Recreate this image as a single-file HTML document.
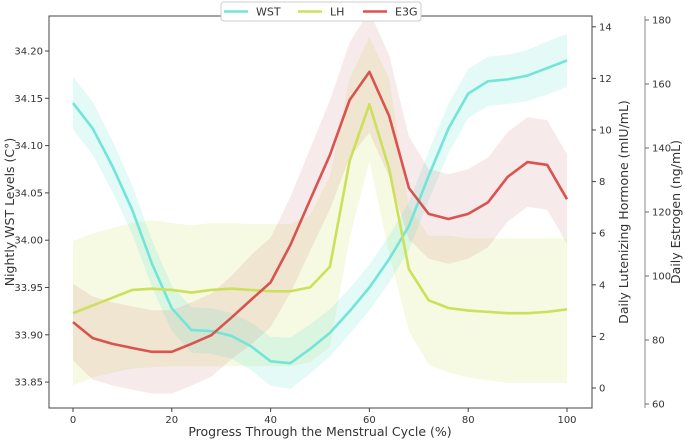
<!DOCTYPE html>
<html><head><meta charset="utf-8"><style>
body{margin:0;background:#fff;font-family:"Liberation Sans","DejaVu Sans",sans-serif}
svg text{font-family:"DejaVu Sans","Liberation Sans",sans-serif;fill:#333}
</style></head><body>
<svg id="c" width="685" height="440"></svg>
<script>
const xs=[0,4,8,12,16,20,24,28,32,36,40,44,48,52,56,60,64,68,72,76,80,84,88,92,96,100];
const wst=[34.145,34.118,34.078,34.032,33.975,33.928,33.905,33.904,33.899,33.888,33.872,33.870,33.885,33.902,33.925,33.950,33.980,34.015,34.068,34.118,34.155,34.168,34.170,34.174,34.182,34.190];
const wstErr=[0.028,0.028,0.027,0.026,0.025,0.024,0.024,0.024,0.024,0.025,0.026,0.027,0.026,0.025,0.024,0.024,0.025,0.025,0.026,0.026,0.026,0.026,0.026,0.027,0.028,0.028];
const lh=[2.9,3.2,3.5,3.8,3.85,3.8,3.7,3.8,3.85,3.8,3.75,3.75,3.9,4.7,8.8,11.0,8.5,4.6,3.4,3.1,3.0,2.95,2.9,2.9,2.95,3.05];
const lhLow=[0.1,0.4,0.6,0.75,0.8,0.85,0.85,0.85,0.85,0.85,0.85,0.85,1.0,1.6,5.8,8.8,5.2,2.2,0.9,0.6,0.4,0.3,0.2,0.2,0.2,0.2];
const lhHigh=[5.7,6.0,6.2,6.4,6.5,6.4,6.3,6.4,6.4,6.35,6.35,6.35,6.7,8.2,12.0,13.6,12.0,7.0,5.9,5.9,5.8,5.8,5.8,5.8,5.8,5.8];
const e3g=[85.6,80.6,78.8,77.5,76.3,76.3,78.8,81.5,86.9,92.5,98,109.7,123.8,137.8,155,163.8,150,127.5,119.4,117.8,119.4,123,131,135.6,134.7,124];
const e3gErr=[12,13,13,13,13,13,13,13,13,14,14,15,16,17,18,19,19,16,14,14,14,14,14,14,14,14];
const xTicks=[0,20,40,60,80,100];
const wTicks=[33.85,33.90,33.95,34.00,34.05,34.10,34.15,34.20];
const lTicks=[0,2,4,6,8,10,12,14];
const eTicks=[60,80,100,120,140,160,180];

const L=49,R=592,T=16,B=408;
const X=v=>73+v*4.94;
const YW=v=>51+(34.20-v)/0.05*47.3;
const YL=v=>388-v*25.8;
const YE=v=>404-(v-60)*3.2;
const NS="http://www.w3.org/2000/svg";
const svg=document.getElementById('c');
function el(t,a,txt){const e=document.createElementNS(NS,t);for(const k in a)e.setAttribute(k,a[k]);if(txt!==undefined)e.textContent=txt;svg.appendChild(e);return e;}
function band(lo,hi,fy,col,op,name){
 let d='M'+xs.map((x,i)=>X(x)+','+fy(hi[i])).join('L');
 for(let i=xs.length-1;i>=0;i--)d+='L'+X(xs[i])+','+fy(lo[i]);
 const p=el('path',{d:d+'Z',fill:col,'fill-opacity':op,stroke:'none'});
 
 
}
function line(vals,fy,col,name){
 const p=el('path',{d:'M'+xs.map((x,i)=>X(x)+','+fy(vals[i])).join('L'),fill:'none',stroke:col,'stroke-width':2.6,'stroke-linejoin':'round'});
 
 
}
const CW='#72e5d8',CL='#cce05a',CE='#d9534f';
band(lhLow,lhHigh,YL,CL,0.17,'lh-band');
band(wst.map((v,i)=>v-wstErr[i]),wst.map((v,i)=>v+wstErr[i]),YW,CW,0.2,'wst-band');
band(e3g.map((v,i)=>v-e3gErr[i]),e3g.map((v,i)=>v+e3gErr[i]),YE,'#c0605a',0.13,'e3g-band');
line(wst,YW,CW,'wst-line');
line(lh,YL,CL,'lh-line');
line(e3g,YE,CE,'e3g-line');
el('rect',{x:L,y:T,width:R-L,height:B-T,fill:'none',stroke:'#444','stroke-width':1});
el('line',{x1:645,y1:16,x2:645,y2:408,stroke:'#888','stroke-width':1});
xTicks.forEach(v=>{el('line',{x1:X(v),y1:B,x2:X(v),y2:B+4,stroke:'#444'});const t=el('text',{x:X(v),y:B+15,'font-size':10,'text-anchor':'middle'},v);});
wTicks.forEach(v=>{el('line',{x1:L-4,y1:YW(v),x2:L,y2:YW(v),stroke:'#444'});const t=el('text',{x:L-6,y:YW(v)+3.5,'font-size':10,'text-anchor':'end'},v.toFixed(2));});
lTicks.forEach(v=>{el('line',{x1:R,y1:YL(v),x2:R+4,y2:YL(v),stroke:'#444'});const t=el('text',{x:R+7,y:YL(v)+3.5,'font-size':10},v);});
eTicks.forEach(v=>{el('line',{x1:645,y1:YE(v),x2:649,y2:YE(v),stroke:'#666'});const t=el('text',{x:652,y:YE(v)+3.5,'font-size':10},v);});
let t=el('text',{x:320,y:436,'font-size':12.5,'text-anchor':'middle'},'Progress Through the Menstrual Cycle (%)');
t=el('text',{x:0,y:0,'font-size':12.5,'text-anchor':'middle',transform:'translate(14,212) rotate(-90)'},'Nightly WST Levels (C°)');
t=el('text',{x:0,y:0,'font-size':12.5,'text-anchor':'middle',transform:'translate(628,212) rotate(-90)'},'Daily Lutenizing Hormone (mIU/mL)');
t=el('text',{x:0,y:0,'font-size':12.5,'text-anchor':'middle',transform:'translate(680,212) rotate(-90)'},'Daily Estrogen (ng/mL)');
const lg=el('rect',{x:221,y:2,width:200,height:19,rx:3,fill:'#fff',stroke:'#ccc'});
[['WST',CW,224],['LH',CL,298],['E3G',CE,363]].forEach(([n,c,x])=>{
 el('line',{x1:x,y1:11.5,x2:x+24,y2:11.5,stroke:c,'stroke-width':2.6});
 const tt=el('text',{x:x+32,y:15.5,'font-size':11},n);
});
</script>
</body></html>
